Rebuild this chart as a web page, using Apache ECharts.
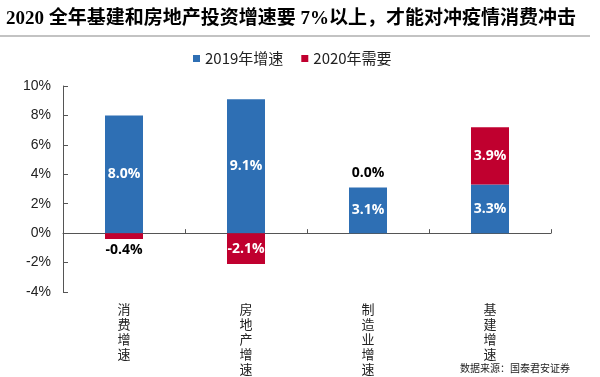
<!DOCTYPE html>
<html>
<head>
<meta charset="utf-8">
<script src="https://cdn.jsdelivr.net/npm/echarts@6/dist/echarts.min.js"></script>
<style>
  html, body { margin: 0; padding: 0; background: #fff; }
  #chart { width: 600px; height: 377px; }
</style>
</head>
<body>
<div id="chart"></div>
<script>
// 数据
const categories = ['消费增速', '房地产增速', '制造业增速', '基建增速']
const growth2019 = [8.0, 9.1, 3.1, 3.3]
const need2020 = [-0.4, -2.1, 0.0, 3.9]
const yTicks = { min: -4, max: 10, interval: 2 }

const blue = '#2e6fb4'
const red = '#c0002f'
const labelFont = '"Open Sans", "Noto Sans CJK SC", sans-serif'

const chart = echarts.init(document.getElementById('chart'))

// 小值标签放在柱子外面，黑色
const need2020Data = need2020.map(v => {
  const item = { value: v }
  if (v === 0) {
    item.label = { position: 'top', color: '#000', distance: 8 }
  } else if (Math.abs(v) < 1) {
    item.label = { position: 'bottom', color: '#000', distance: 4 }
  }
  return item
})

const option = {
  animation: false,
  title: {
    text: '2020 全年基建和房地产投资增速要 7%以上，才能对冲疫情消费冲击',
    left: 1,
    top: 5,
    textStyle: {
      fontFamily: '"Liberation Serif", "Noto Sans CJK SC", serif',
      fontWeight: 'bold',
      fontSize: 19,
      color: '#000'
    }
  },
  graphic: [
    {
      type: 'line',
      shape: { x1: 0, y1: 36, x2: 590, y2: 36 },
      style: { stroke: '#888', lineWidth: 1.2 }
    },
    {
      type: 'text',
      right: 30,
      bottom: 4,
      style: {
        text: '数据来源：国泰君安证券',
        font: '10px "Noto Sans CJK SC", sans-serif',
        fill: '#222'
      }
    }
  ],
  legend: {
    top: 46,
    left: 188,
    itemWidth: 7,
    itemHeight: 7,
    itemGap: 18,
    icon: 'rect',
    textStyle: {
      fontSize: 15,
      color: '#222',
      fontFamily: '"Noto Sans CJK SC", sans-serif'
    },
    data: ['2019年增速', '2020年需要']
  },
  grid: {
    left: 63,
    right: 49,
    top: 86,
    bottom: 85,
    containLabel: false,
    outerBoundsMode: 'none'
  },
  xAxis: {
    type: 'category',
    data: categories,
    axisLine: { onZero: true, lineStyle: { color: '#555' } },
    axisTick: { show: true, inside: true, length: 4, lineStyle: { color: '#555' } },
    axisLabel: {
      interval: 0,
      fontSize: 13,
      color: '#222',
      lineHeight: 15,
      fontFamily: '"Noto Sans CJK SC", sans-serif',
      formatter: v => v.split('').join('\n'),
      margin: 10,
      verticalAlign: 'top'
    }
  },
  yAxis: {
    type: 'value',
    min: yTicks.min,
    max: yTicks.max,
    interval: yTicks.interval,
    splitLine: { show: false },
    axisLine: { show: true, lineStyle: { color: '#555' } },
    axisTick: { show: true, inside: true, length: 5, lineStyle: { color: '#555' } },
    axisLabel: {
      formatter: '{value}%',
      fontSize: 14,
      color: '#222',
      margin: 12,
      fontFamily: '"Liberation Sans", Arial, sans-serif'
    }
  },
  series: [
    {
      name: '2019年增速',
      type: 'bar',
      stack: 'total',
      barWidth: 38,
      itemStyle: { color: blue },
      label: {
        show: true,
        position: 'inside',
        color: '#fff',
        fontWeight: 'bold',
        fontSize: 14,
        fontFamily: labelFont,
        formatter: p => p.value.toFixed(1) + '%'
      },
      data: growth2019
    },
    {
      name: '2020年需要',
      type: 'bar',
      stack: 'total',
      barWidth: 38,
      itemStyle: { color: red },
      label: {
        show: true,
        position: 'inside',
        color: '#fff',
        fontWeight: 'bold',
        fontSize: 14,
        fontFamily: labelFont,
        formatter: p => p.value.toFixed(1) + '%'
      },
      data: need2020Data
    }
  ]
}

chart.setOption(option)
</script>
</body>
</html>
